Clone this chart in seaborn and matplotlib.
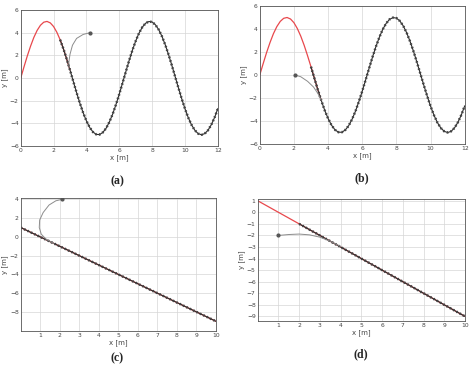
import numpy as np
import pandas as pd
import matplotlib
matplotlib.use("Agg")
import matplotlib.pyplot as plt
import seaborn as sns

# reference sine path, read every 0.2 m
sine_x = np.round(np.arange(0, 12.01, 0.2), 1)
sine_y = [0.00, 0.99, 1.95, 2.82, 3.59, 4.21, 4.66, 4.93, 5.00, 4.87,
          4.55, 4.04, 3.38, 2.58, 1.67, 0.71, -0.29, -1.28, -2.21, -3.06,
          -3.78, -4.36, -4.76, -4.97, -4.98, -4.79, -4.42, -3.86, -3.16, -2.32,
          -1.40, -0.42, 0.58, 1.56, 2.47, 3.28, 3.97, 4.49, 4.84, 4.99,
          4.95, 4.70, 4.27, 3.67, 2.92, 2.06, 1.11, 0.12, -0.87, -1.83,
          -2.72, -3.50, -4.14, -4.61, -4.90, -5.00, -4.90, -4.60, -4.11, -3.47,
          -2.68]

# straight reference line for (c) and (d)
line_x = [0, 10]
line_y = [1, -9]

# robot approach paths (gray)
path_a_x = [4.2, 3.8, 3.4, 3.15, 3.0, 2.93, 2.95]
path_a_y = [4.0, 3.85, 3.5, 2.9, 2.1, 1.4, 0.95]
path_b_x = [2.05, 2.4, 2.8, 3.15, 3.4, 3.6]
path_b_y = [0.0, -0.15, -0.55, -1.05, -1.6, -2.2]
path_c_x = [2.1, 1.8, 1.45, 1.15, 0.97, 0.95, 1.05, 1.3, 1.7]
path_c_y = [4.0, 3.85, 3.4, 2.6, 1.8, 1.0, 0.3, -0.25, -0.7]
path_d_x = [1.0, 1.5, 2.0, 2.5, 3.0, 3.5, 4.0]
path_d_y = [-2.0, -1.92, -1.88, -1.95, -2.15, -2.5, -2.95]

# where the tracked (black) segment starts / reference red ends
red_end_a, black_start_a = 15, 12
red_end_b, black_start_b = 18, 15

sns.set_style("whitegrid")
plt.rcParams["font.family"] = ["DejaVu Sans"]

fig = plt.figure(figsize=(4.74, 3.68), dpi=100)
fig.patch.set_facecolor("white")

boxes = {
    "a": [0.0437, 0.603, 0.416, 0.3696],
    "b": [0.548, 0.6087, 0.4325, 0.375],
    "c": [0.0437, 0.1014, 0.412, 0.3606],
    "d": [0.5437, 0.1277, 0.4373, 0.3315],
}

RED = "#e8484c"
GRAY = "#8c8c8c"


def style_axes(ax):
    ax.grid(True, color="#d6d6d6", linewidth=0.5)
    for s in ax.spines.values():
        s.set_color("#555555")
        s.set_linewidth(0.6)
    ax.tick_params(axis="both", which="both", direction="in", length=2,
                   width=0.4, labelsize=4.3, colors="#555555", pad=1.5,
                   labelcolor="#444444")
    ax.set_xlabel("x [m]", fontsize=5, color="#444444", labelpad=1)
    ax.set_ylabel("y [m]", fontsize=5, color="#444444", labelpad=1)


def tracked(ax, xs, ys):
    sns.lineplot(x=xs, y=ys, sort=False, estimator=None, color="#2a2a2a",
                 linewidth=0.8, ax=ax)
    ax.plot(xs, ys, color="#444444", linewidth=1.8,
            linestyle=(0, (0.6, 0.9)), solid_capstyle="round")


def approach(ax, xs, ys):
    sns.lineplot(x=xs, y=ys, sort=False, estimator=None, color=GRAY,
                 linewidth=0.7, ax=ax)
    ax.plot(xs[0], ys[0], marker="o", markersize=2.0, color="#555555")


sx = np.asarray(sine_x)
sy = np.asarray(sine_y)

# (a)
ax = fig.add_axes(boxes["a"])
style_axes(ax)
sns.lineplot(x=sx[:red_end_a + 1], y=sy[:red_end_a + 1], color=RED,
             linewidth=0.9, ax=ax)
tracked(ax, sx[black_start_a:], sy[black_start_a:])
approach(ax, path_a_x, path_a_y)
ax.set_xlim(0, 12)
ax.set_ylim(-6, 6)
ax.set_xticks(range(0, 13, 2))
ax.set_yticks(range(-6, 7, 2))

# (b)
ax = fig.add_axes(boxes["b"])
style_axes(ax)
sns.lineplot(x=sx[:red_end_b + 1], y=sy[:red_end_b + 1], color=RED,
             linewidth=0.9, ax=ax)
tracked(ax, sx[black_start_b:], sy[black_start_b:])
approach(ax, path_b_x, path_b_y)
ax.set_xlim(0, 12)
ax.set_ylim(-6, 6)
ax.set_xticks(range(0, 13, 2))
ax.set_yticks(range(-6, 7, 2))

# (c)
ax = fig.add_axes(boxes["c"])
style_axes(ax)
sns.lineplot(x=line_x, y=line_y, color=RED, linewidth=0.9, ax=ax)
tracked(ax, line_x, line_y)
approach(ax, path_c_x, path_c_y)
ax.set_xlim(0, 10)
ax.set_ylim(-10, 4.15)
ax.set_xticks(range(1, 11))
ax.set_yticks(range(-8, 5, 2))

# (d)
ax = fig.add_axes(boxes["d"])
style_axes(ax)
sns.lineplot(x=line_x, y=line_y, color=RED, linewidth=0.9, ax=ax)
tracked(ax, [2, line_x[1]], [-1, line_y[1]])
approach(ax, path_d_x, path_d_y)
ax.set_xlim(0, 10)
ax.set_ylim(-9.4, 1.15)
ax.set_xticks(range(1, 11))
ax.set_yticks(range(-9, 2))

labels = {"(a)": (0.247, 0.508), "(b)": (0.764, 0.516),
          "(c)": (0.247, 0.027), "(d)": (0.762, 0.038)}
for t, (px, py) in labels.items():
    fig.text(px, py, t, ha="center", va="center", fontsize=8.5,
             fontweight="bold", family=["Liberation Serif", "DejaVu Serif"])

fig.savefig("out.png", dpi=100, facecolor="white")
